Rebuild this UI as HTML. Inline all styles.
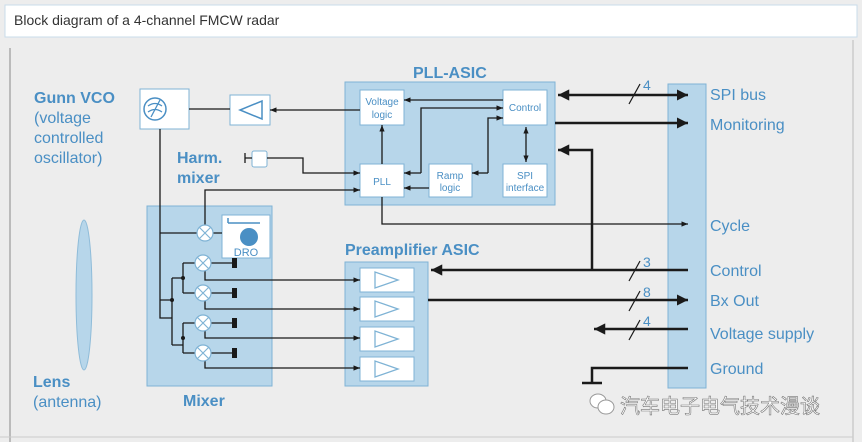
<!DOCTYPE html>
<html><head><meta charset="utf-8"><style>
html,body{margin:0;padding:0;background:#ededed;}
svg{display:block;font-family:"Liberation Sans",Arial,sans-serif;}
</style></head><body>
<svg width="862" height="442" viewBox="0 0 862 442" xmlns="http://www.w3.org/2000/svg">
<defs>
<marker id="a" viewBox="0 0 10 10" refX="10" refY="5" markerWidth="4.5" markerHeight="4.5" orient="auto-start-reverse"><path d="M0,0 L10,5 L0,10 z" fill="#1a1a1a"/></marker>
<marker id="b" viewBox="0 0 10 10" refX="10" refY="5" markerWidth="5.5" markerHeight="5" orient="auto-start-reverse"><path d="M0,1 L10,5 L0,9 z" fill="#1a1a1a"/></marker>
</defs>
<rect width="862" height="442" fill="#ededed"/>
<rect x="5" y="5" width="852" height="32" fill="#fff" stroke="#c9dcea"/>
<text x="14" y="25" font-size="14" fill="#333">Block diagram of a 4-channel FMCW radar</text>
<line x1="10" y1="48" x2="10" y2="442" stroke="#bbb" stroke-width="2"/>
<line x1="853" y1="40" x2="853" y2="442" stroke="#ccc" stroke-width="1.5"/>
<line x1="0" y1="437" x2="853" y2="437" stroke="#ccc"/>

<g fill="#4a8fc4" font-size="16">
<text x="34" y="103" font-weight="bold">Gunn VCO</text>
<text x="34" y="123">(voltage</text>
<text x="34" y="143">controlled</text>
<text x="34" y="163">oscillator)</text>
<text x="177" y="163" font-weight="bold">Harm.</text>
<text x="177" y="183" font-weight="bold">mixer</text>
<text x="413" y="78" font-weight="bold">PLL-ASIC</text>
<text x="345" y="255" font-weight="bold">Preamplifier ASIC</text>
<text x="162" y="260" font-weight="bold">MIC</text>
<text x="183" y="406" font-weight="bold">Mixer</text>
<text x="33" y="387" font-weight="bold">Lens</text>
<text x="33" y="407">(antenna)</text>
<text x="710" y="100">SPI bus</text>
<text x="710" y="130">Monitoring</text>
<text x="710" y="231">Cycle</text>
<text x="710" y="276">Control</text>
<text x="710" y="306">Bx Out</text>
<text x="710" y="339">Voltage supply</text>
<text x="710" y="374">Ground</text>
</g>

<ellipse cx="84" cy="295" rx="8" ry="75" fill="#b7d6ea" stroke="#8fbcd9"/>

<rect x="345" y="82" width="210" height="123" fill="#b7d6ea" stroke="#7fb3d5"/>
<rect x="147" y="206" width="125" height="180" fill="#b7d6ea" stroke="#7fb3d5"/>
<rect x="345" y="262" width="83" height="124" fill="#b7d6ea" stroke="#7fb3d5"/>
<rect x="668" y="84" width="38" height="304" fill="#b7d6ea" stroke="#7fb3d5"/>

<g fill="#fff" stroke="#7fb3d5">
<rect x="140" y="89" width="49" height="40"/>
<rect x="230" y="95" width="40" height="30"/>
<rect x="360" y="90" width="44" height="35"/>
<rect x="503" y="90" width="44" height="35"/>
<rect x="360" y="164" width="44" height="33"/>
<rect x="429" y="164" width="43" height="33"/>
<rect x="503" y="164" width="44" height="33"/>
<rect x="222" y="215" width="48" height="43"/>
<rect x="360" y="268" width="54" height="24"/>
<rect x="360" y="297" width="54" height="24"/>
<rect x="360" y="327" width="54" height="24"/>
<rect x="360" y="357" width="54" height="24"/>
<rect x="252" y="151" width="15" height="16" rx="2"/>
</g>
<g font-size="10" fill="#4a8fc4" text-anchor="middle">
<text x="382" y="105">Voltage</text><text x="382" y="118">logic</text>
<text x="525" y="111">Control</text>
<text x="382" y="185">PLL</text>
<text x="450" y="179">Ramp</text><text x="450" y="191">logic</text>
<text x="525" y="179">SPI</text><text x="525" y="191">interface</text>
<text x="246" y="256" font-size="11">DRO</text>
</g>
<circle cx="155" cy="109" r="11" fill="none" stroke="#4a8fc4" stroke-width="1.5"/>
<path d="M148,106 q7,-5 14,0 M148,112 q7,-5 14,0 M151,117 L160,100" stroke="#4a8fc4" fill="none" stroke-width="1.3"/>
<path d="M262,101 L262,119 L240,110 Z" fill="none" stroke="#4a8fc4" stroke-width="1.5"/>
<g fill="none" stroke="#7fb3d5" stroke-width="1.3">
<path d="M375,272 L375,288 L398,280 Z"/><path d="M375,301 L375,317 L398,309 Z"/>
<path d="M375,331 L375,347 L398,339 Z"/><path d="M375,361 L375,377 L398,369 Z"/>
</g>
<circle cx="249" cy="237" r="9" fill="#4a8fc4"/>
<path d="M228,218 v5 M228,223 h32" stroke="#4a8fc4" stroke-width="1.5" fill="none"/>

<g stroke="#1a1a1a" stroke-width="1.3" fill="none">
<path d="M189,109 H230"/>
<path d="M360,110 H270" marker-end="url(#b)"/>
<path d="M503,100 H404" marker-end="url(#b)"/>
<path d="M382,164 V125" marker-end="url(#b)"/>
<path d="M421,173 H404" marker-end="url(#b)"/>
<path d="M421,173 V108 H503" marker-end="url(#b)"/>
<path d="M488,173 H472" marker-end="url(#b)"/>
<path d="M488,173 V118 H503" marker-end="url(#b)"/>
<path d="M429,188 H404" marker-end="url(#b)"/>
<path d="M526,127 V162" marker-start="url(#b)" marker-end="url(#b)"/>
<path d="M267,158 H303 V173 H360" marker-end="url(#b)"/>
<path d="M252,158 H245 M245,153 V163"/>
<path d="M205,225 V190 H360" marker-end="url(#b)"/>
<path d="M382,197 V224 H688" marker-end="url(#b)"/>
<path d="M160,129 V318 H172"/>
<path d="M160,233 H197 M213,233 H222"/>
<path d="M172,278 V345 M172,278 H183 M172,345 H183 M172,300 H160"/>
<path d="M183,263 V293 M183,263 H195 M183,293 H195 M183,323 V353 M183,323 H195 M183,353 H195"/>
<path d="M211,263 H232 M211,293 H232 M211,323 H232 M211,353 H232"/>
<path d="M205,271 V280 H360" marker-end="url(#b)"/>
<path d="M205,301 V309 H360" marker-end="url(#b)"/>
<path d="M205,331 V338 H360" marker-end="url(#b)"/>
<path d="M205,361 V368 H360" marker-end="url(#b)"/>
</g>
<g fill="#1a1a1a"><circle cx="172" cy="300" r="2"/><circle cx="183" cy="278" r="2"/><circle cx="183" cy="338" r="2"/>
<rect x="232" y="258" width="5" height="10"/><rect x="232" y="288" width="5" height="10"/><rect x="232" y="318" width="5" height="10"/><rect x="232" y="348" width="5" height="10"/></g>
<g fill="#fff" stroke="#7fb3d5" stroke-width="1.2">
<circle cx="205" cy="233" r="8"/><circle cx="203" cy="263" r="8"/><circle cx="203" cy="293" r="8"/><circle cx="203" cy="323" r="8"/><circle cx="203" cy="353" r="8"/>
</g>
<g stroke="#7fb3d5" stroke-width="1.2">
<path d="M199.5,227.5 l11,11 M210.5,227.5 l-11,11"/>
<path d="M197.5,257.5 l11,11 M208.5,257.5 l-11,11"/>
<path d="M197.5,287.5 l11,11 M208.5,287.5 l-11,11"/>
<path d="M197.5,317.5 l11,11 M208.5,317.5 l-11,11"/>
<path d="M197.5,347.5 l11,11 M208.5,347.5 l-11,11"/>
</g>

<g stroke="#1a1a1a" stroke-width="2.5" fill="none">
<path d="M558,95 H688" marker-start="url(#a)" marker-end="url(#a)"/>
<path d="M555,123 H688" marker-end="url(#a)"/>
<path d="M592,270 V150 H558" marker-end="url(#a)"/>
<path d="M688,270 H431" marker-end="url(#a)"/>
<path d="M428,300 H688" marker-end="url(#a)"/>
<path d="M688,329 H594" marker-end="url(#a)"/>
<path d="M688,368 H592 V383 M582,383 H602"/>
</g>
<g stroke="#1a1a1a" stroke-width="1.2">
<path d="M629,104 L640,84 M629,281 L640,261 M629,311 L640,291 M629,340 L640,320"/>
</g>
<g fill="#4a8fc4" font-size="14">
<text x="643" y="90">4</text><text x="643" y="267">3</text><text x="643" y="297">8</text><text x="643" y="326">4</text>
</g>

<g fill="#fff" stroke="#999" stroke-width="1"><ellipse cx="598" cy="401" rx="8" ry="7"/><ellipse cx="606" cy="407" rx="8" ry="7"/></g>
<text x="620" y="413" font-size="20" fill="#fff" stroke="#777" stroke-width="0.6" font-family="'Liberation Sans','Noto Sans CJK SC',sans-serif">汽车电子电气技术漫谈</text>
</svg>
</body></html>
